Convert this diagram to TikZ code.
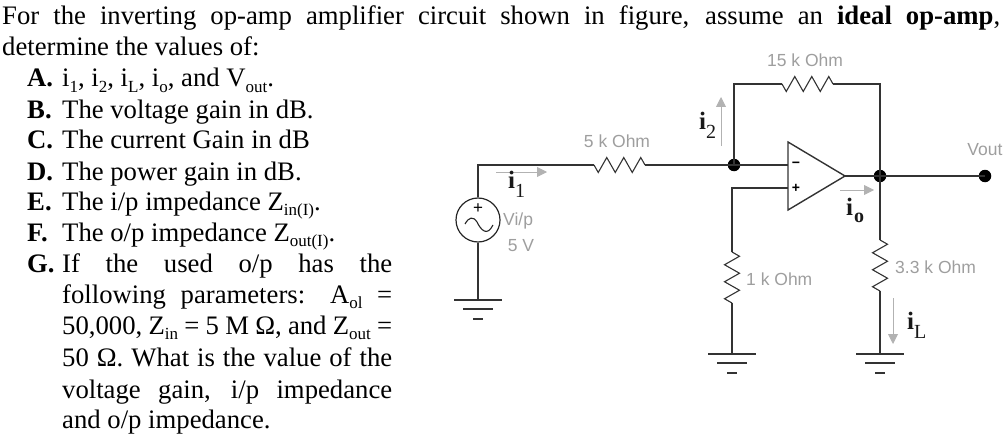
\documentclass[tikz,border=0pt]{standalone}
\usepackage{fontspec}
\setmainfont{Liberation Serif}
\newfontfamily\labelfont{Liberation Sans}
\usetikzlibrary{arrows.meta,decorations.pathmorphing}
\newcommand{\sbs}[1]{\raisebox{-0.2em}{\fontsize{17}{17}\selectfont #1}}
\newcommand{\bigsbs}[1]{\raisebox{-9pt}{\fontsize{20}{20}\selectfont\mdseries #1}}
\tikzset{
  wire/.style={draw=black!80,line width=1.4pt},
  reszig/.style={draw=black!80,line width=1.1pt,decorate,decoration={zigzag,segment length=17pt,amplitude=7.5pt}},
  reszigm/.style={reszig,decoration={mirror}},
  cur/.style={draw=black!30,line width=0.9pt,-{Triangle[length=10pt,width=10pt,fill=black!30]}},
  dot/.style={circle,fill=black,inner sep=0pt,minimum size=12.5pt},
  txt/.style={inner sep=0pt,anchor=base west,font=\fontsize{26.7}{30}\selectfont},
  curlabel/.style={inner sep=0pt,anchor=base west,font=\fontsize{25}{30}\selectfont\bfseries,text=black!90},
  val/.style={inner sep=0pt,text=black!38,font=\labelfont\fontsize{17.5}{19}\selectfont},
  srcbody/.style={circle,draw=black!85,line width=1.2pt,inner sep=0pt,minimum size=44pt},
  gndsym/.pic={
    \draw[wire] (-24,0) -- (24,0);
    \draw[wire] (-15,9) -- (15,9);
    \draw[wire] (-5,19) -- (5,19);
  }
}
\begin{document}
\begin{tikzpicture}[x=1pt,y=-1pt]
\useasboundingbox (0,0) rectangle (1006,441);
% question text
\node[txt] (t1) at (2,25) {\makebox[998pt][s]{For the inverting op-amp amplifier circuit shown in figure, assume an \textbf{ideal op-amp},}};
\node[txt] (t2) at (2,56) {determine the values of:};
\node[txt] (la) at (27,87) {\textbf{A.}};
\node[txt] (ta) at (62,87) {i\sbs{1}, i\sbs{2}, i\sbs{L}, i\sbs{o}, and V\sbs{out}.};
\node[txt] (lb) at (27,118) {\textbf{B.}};
\node[txt] (tb) at (62,118) {The voltage gain in dB.};
\node[txt] (lc) at (27,149) {\textbf{C.}};
\node[txt] (tc) at (62,149) {The current Gain in dB};
\node[txt] (ld) at (27,180) {\textbf{D.}};
\node[txt] (td) at (62,180) {The power gain in dB.};
\node[txt] (le) at (27,210) {\textbf{E.}};
\node[txt] (te) at (62,210) {The i/p impedance Z\sbs{in(I)}.};
\node[txt] (lf) at (27,241) {\textbf{F.}};
\node[txt] (tf) at (62,241) {The o/p impedance Z\sbs{out(I)}.};
\node[txt] (lg) at (27,272) {\textbf{G.}};
\node[txt] (g1) at (62,272) {\makebox[330pt][s]{If the used o/p has the}};
\node[txt] (g2) at (62,303) {\makebox[330pt][s]{following parameters: A\sbs{ol} =}};
\node[txt] (g3) at (62,334) {\makebox[330pt][s]{50,000, Z\sbs{in} = 5 M Ω, and Z\sbs{out} =}};
\node[txt] (g4) at (62,366) {\makebox[330pt][s]{50 Ω. What is the value of the}};
\node[txt] (g5) at (62,398) {\makebox[330pt][s]{voltage gain, i/p impedance}};
\node[txt] (g6) at (62,428) {and o/p impedance.};

% circuit anchor points
\node[srcbody] (src) at (478,220) {};
\coordinate (srctop) at (478,165);
\coordinate (ra1) at (594,165);
\coordinate (ra2) at (645,165);
\node[dot] (ninv) at (734,165) {};
\coordinate (fbl) at (734,84);
\coordinate (rb1) at (782,84);
\coordinate (rb2) at (833,84);
\coordinate (fbr) at (880,84);
\node[dot] (nout) at (880,176) {};
\node[dot] (vout) at (985,176) {};
\coordinate (oa1) at (788,142);
\coordinate (oa2) at (788,210);
\coordinate (oa3) at (845,176);
\coordinate (inm) at (788,165);
\coordinate (inp) at (788,188);
\coordinate (pl) at (732,188);
\coordinate (rc1) at (732,252);
\coordinate (rc2) at (732,303);
\coordinate (gc) at (732,354);
\coordinate (rd1) at (880,240);
\coordinate (rd2) at (880,291);
\coordinate (gd) at (880,354);
\coordinate (ga) at (478,300);

% wires
\draw[wire] (src.north) -- (srctop) -- (ra1);
\draw[reszigm] (ra1) -- (ra2);
\draw[wire] (ra2) -- (ninv.center) -- (inm);
\draw[wire] (ninv.center) -- (fbl) -- (rb1);
\draw[reszigm] (rb1) -- (rb2);
\draw[wire] (rb2) -- (fbr) -- (nout.center);
\draw[wire] (oa3) -- (nout.center) -- (vout.center);
\draw[wire] (oa1) -- (oa2) -- (oa3) -- cycle;
\draw[wire] (inp) -- (pl) -- (rc1);
\draw[reszig] (rc1) -- (rc2);
\draw[wire] (rc2) -- (gc);
\draw[wire] (nout.center) -- (rd1);
\draw[reszig] (rd1) -- (rd2);
\draw[wire] (rd2) -- (gd);
\draw[wire] (src.south) -- (ga);
\pic at (ga) {gndsym};
\pic at (gc) {gndsym};
\pic at (gd) {gndsym};

% op-amp and source marks
\node[inner sep=0pt,font=\labelfont\bfseries\fontsize{14}{14}\selectfont] (minus) at (796,165) {−};
\node[inner sep=0pt,font=\labelfont\bfseries\fontsize{14}{14}\selectfont] (plus) at (796,188) {+};
\node[inner sep=0pt,font=\labelfont\fontsize{17}{17}\selectfont] (splus) at (478,209) {+};
\draw[draw=black!85,line width=1.1pt] (465,224) .. controls (469,217) and (473,216) .. (477,222) .. controls (481,230) and (487,237) .. (493,225);

% current arrows
\coordinate (a1s) at (496,172); \coordinate (a1e) at (547,172);
\coordinate (a2s) at (721,146); \coordinate (a2e) at (721,97);
\coordinate (a3s) at (840,190); \coordinate (a3e) at (874,190);
\coordinate (a4s) at (893,298); \coordinate (a4e) at (893,344);
\draw[cur] (a1s) -- (a1e);
\draw[cur] (a2s) -- (a2e);
\draw[cur] (a3s) -- (a3e);
\draw[cur] (a4s) -- (a4e);
\node[curlabel] (i1) at (508,188) {i\bigsbs{1}};
\node[curlabel] (i2) at (699,130) {i\bigsbs{2}};
\node[curlabel] (io) at (846,215) {i\kern1pt\raisebox{-7pt}{\fontsize{20}{20}\selectfont o}};
\node[curlabel] (il) at (907,329) {i\bigsbs{L}};

% value labels
\node[val] (v15) at (805,60) {15 k Ohm};
\node[val] (v5) at (617,141) {5 k Ohm};
\node[val,anchor=west] (vip) at (503,221) {Vi/p};
\node[val] (v5v) at (521,246) {5 V};
\node[val,anchor=west] (v1) at (746,279) {1 k Ohm};
\node[val,anchor=west] (v33) at (895,267) {3.3 k Ohm};
\node[val] (vo) at (985,150) {Vout};
\end{tikzpicture}
\end{document}
